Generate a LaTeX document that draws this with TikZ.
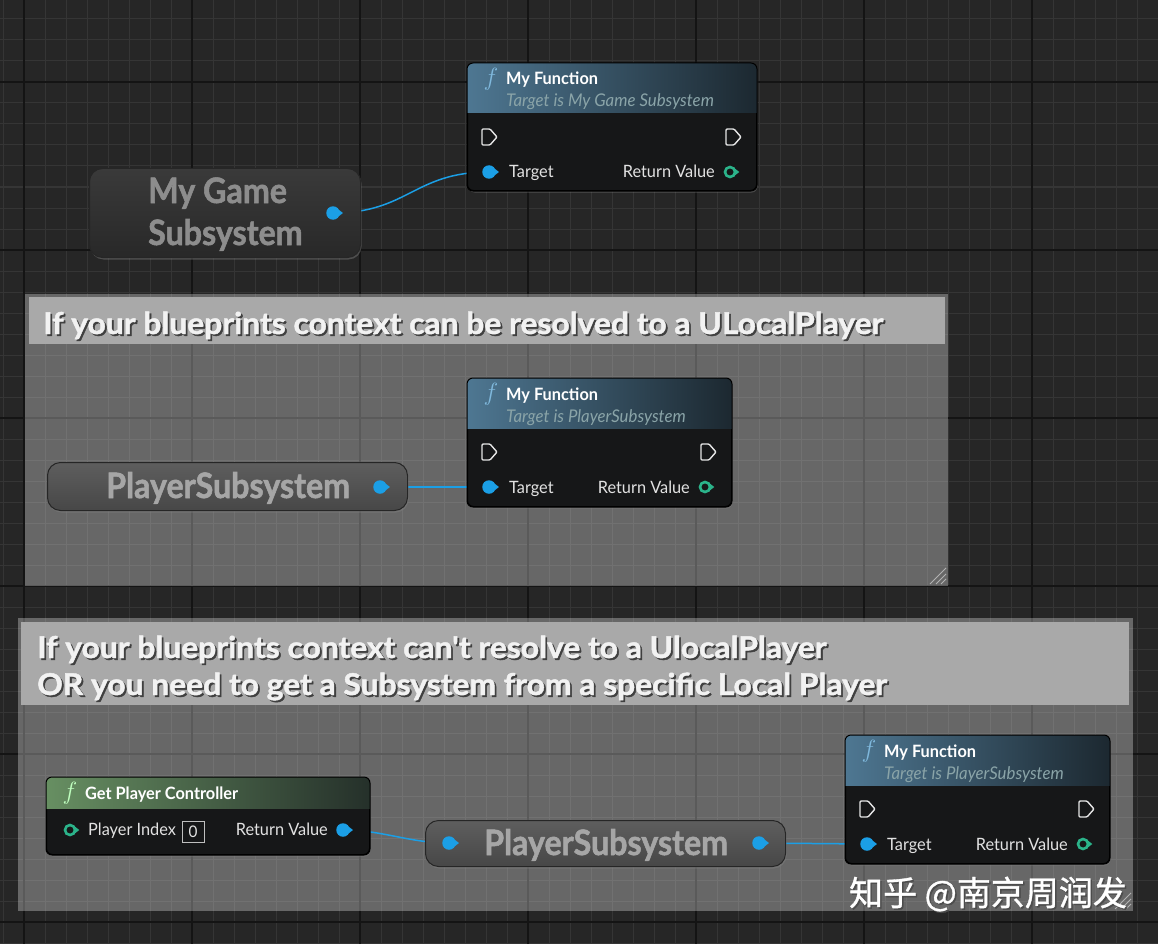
\documentclass[tikz,border=0pt]{standalone}
\usepackage{fontspec}
\setmainfont{Lato}
\newfontfamily\uefont[FakeStretch=0.96]{Lato}
\newfontfamily\uehead[FakeStretch=1.06, BoldFeatures={FakeBold=1.5}]{Lato}
\newfontfamily\uecond[FakeStretch=0.92, BoldFeatures={FakeBold=1.5}]{Lato}
\newfontfamily\cjkfont[FakeBold=1]{Noto Sans CJK SC}
\usetikzlibrary{positioning,shadows}

\definecolor{graphbg}{HTML}{262626}
\definecolor{gridminor}{HTML}{353535}
\definecolor{gridmajor}{HTML}{141414}
\definecolor{wireblue}{HTML}{1B9FE6}
\definecolor{pingreen}{HTML}{2BB38A}
\definecolor{nodebody}{HTML}{161718}
\definecolor{fnhead}{HTML}{4E7792}
\definecolor{fnheaddark}{HTML}{1C2830}
\definecolor{fnicon}{HTML}{7FB8DC}
\definecolor{pchead}{HTML}{678F62}
\definecolor{pcheaddark}{HTML}{25302A}
\definecolor{subtitle}{HTML}{8AA4A8}
\definecolor{pintext}{HTML}{E2E2E2}
\definecolor{commenthead}{HTML}{A9A9A9}
\definecolor{compacttext}{HTML}{8D8D8D}
\definecolor{compacttextlight}{HTML}{A6A6A6}
\definecolor{darktop}{HTML}{3A3A3A}
\definecolor{darkbot}{HTML}{282828}
\definecolor{lighttop}{HTML}{5E5E5E}
\definecolor{lightbot}{HTML}{474747}

\pgfdeclarelayer{canvas}
\pgfdeclarelayer{wirelayer}
\pgfsetlayers{canvas,wirelayer,main}

\tikzset{
  fnbox/.style={draw=black, line width=1pt, fill=nodebody, rounded corners=6pt,
    anchor=north west, inner sep=0pt,
    drop shadow={opacity=0.45, shadow xshift=1pt, shadow yshift=-2pt}},
  compact/.style 2 args={draw=black!85, line width=1pt, rounded corners=13pt,
    anchor=north west, inner sep=0pt, top color=#1, bottom color=#2,
    drop shadow={opacity=0.45, shadow xshift=1pt, shadow yshift=-2pt}},
  compacttext/.style={font=\uecond\bfseries\fontsize{35}{41}\selectfont,
    inner sep=0pt, anchor=base west},
  datapin/.style={circle, fill=wireblue, minimum size=13.5pt, inner sep=0pt},
  retpin/.style={circle, draw=pingreen, line width=2.6pt, fill=nodebody,
    minimum size=10pt, inner sep=0pt},
  pinlabel/.style={font=\uefont\fontsize{17}{20}\selectfont, text=pintext, inner sep=0pt},
  fntitle/.style={font=\uefont\bfseries\fontsize{17}{20}\selectfont, text=white,
    inner sep=0pt, anchor=base west},
  fnsub/.style={font=\uefont\itshape\fontsize{17.5}{20}\selectfont, text=subtitle,
    inner sep=0pt, anchor=base west},
  fniconstyle/.style={font=\fontsize{24}{24}\selectfont, inner sep=0pt},
  execpin/.style={draw=white!90!black, line width=1.4pt, line join=round, rounded corners=1pt},
  wire/.style={wireblue, line width=1.5pt},
  commenttext/.style={font=\uehead\bfseries\fontsize{30}{36}\selectfont, text=white!95!black,
    inner sep=0pt, anchor=base west},
  commentshadow/.style={commenttext, text=black!75},
  grip/.style={draw=white!70!black, line width=1pt},
  watermark/.style={font=\cjkfont\fontsize{34}{36}\selectfont, text=white, inner sep=0pt}
}

% header band of a function node, clipped to its rounded box
\newcommand{\fnheader}[4]{%
  \begin{scope}
    \clip[rounded corners=6pt] (#1.north west) rectangle (#1.south east);
    \shade[left color=#2, right color=#3] (#1.north west) rectangle ([yshift=-#4pt]#1.north east);
  \end{scope}
  \draw[line width=1pt, rounded corners=6pt] (#1.north west) rectangle (#1.south east);}

% small arrow tip on the right of a pin
\newcommand{\pintip}[2]{%
  \fill[#2] ([xshift=-1.5pt,yshift=3.5pt]#1.east) -- ([xshift=3pt]#1.east)
    -- ([xshift=-1.5pt,yshift=-3.5pt]#1.east) -- cycle;}

\newcommand{\shadowtext}[2]{%
  \node[commentshadow] at ([xshift=1.8pt,yshift=-1.8pt]#1) {#2};
  \node[commenttext] at (#1) {#2};}

\begin{document}
\begin{tikzpicture}[x=1pt, y=-1pt]
\useasboundingbox (0,0) rectangle (1158,944);

\begin{pgfonlayer}{canvas}
  \fill[graphbg] (0,0) rectangle (1158,944);
  \foreach \gx in {3,24,...,1158} \draw[gridminor, line width=1pt] (\gx,0) -- (\gx,944);
  \foreach \gy in {-2,19,...,944} \draw[gridminor, line width=1pt] (0,\gy) -- (1158,\gy);
  \foreach \gx in {24,192,...,1158} \draw[gridmajor, line width=1.3pt] (\gx,0) -- (\gx,944);
  \foreach \gy in {82,250,...,944} \draw[gridmajor, line width=1.3pt] (0,\gy) -- (1158,\gy);
  %
  % comment boxes
  \fill[white, fill opacity=0.3] (25,294) rectangle (948,586);
  \fill[commenthead] (29,297) rectangle (945,344);
  \fill[white, fill opacity=0.3] (18,618) rectangle (1133,911);
  \fill[commenthead] (21,622) rectangle (1129,705);
\end{pgfonlayer}

% comment titles
\shadowtext{43,334}{If your blueprints context can be resolved to a ULocalPlayer}
\shadowtext{37,658}{If your blueprints context can't resolve to a UlocalPlayer}
\shadowtext{37,695}{OR you need to get a Subsystem from a specific Local Player}
%
\draw[grip] (930,584) -- (946,568);
\draw[grip] (936,584) -- (946,574);
\draw[grip] (941,584) -- (946,579);
\draw[grip] (1115,909) -- (1131,893);
\draw[grip] (1121,909) -- (1131,899);
\draw[grip] (1126,909) -- (1131,904);

% My Game Subsystem
\node[compact={darktop}{darkbot}, minimum width=271pt, minimum height=89pt] (gamesub) at (89,168) {};
\node[compacttext, text=compacttext] (gamesub-l1) at (148,203) {My Game};
\node[compacttext, text=compacttext] (gamesub-l2) at (148,245) {Subsystem};
\node[datapin] (gamesub-out) at (333,213) {};
\pintip{gamesub-out}{wireblue}

% My Function (top)
\node[fnbox, minimum width=289pt, minimum height=127pt] (fn1) at (467,63) {};
\fnheader{fn1}{fnhead}{fnheaddark}{50}
\node[fniconstyle, text=fnicon] (fn1-icon) at (491,79) {$f$};
\node[fntitle] (fn1-title) at (506,85) {My Function};
\node[fnsub] (fn1-sub) at (506,107) {Target is My Game Subsystem};
\draw[execpin] (482,129) -- ++(8,0) -- ++(7,8) -- ++(-7,8) -- ++(-8,0) -- cycle;
\draw[execpin] (726,129) -- ++(8,0) -- ++(7,8) -- ++(-7,8) -- ++(-8,0) -- cycle;
\node[datapin] (fn1-target) at (489,172) {};
\pintip{fn1-target}{wireblue}
\node[pinlabel, anchor=base west] (fn1-target-label) at (509,178) {Target};
\node[retpin] (fn1-ret) at (730,172) {};
\pintip{fn1-ret}{pingreen}
\node[pinlabel, anchor=base east] (fn1-ret-label) at (715,178) {Return Value};

% PlayerSubsystem (comment 1)
\node[compact={lighttop}{lightbot}, minimum width=360pt, minimum height=48pt] (ps1) at (47,462) {};
\node[compacttext, text=compacttextlight] (ps1-text) at (106,498) {PlayerSubsystem};
\node[datapin] (ps1-out) at (380,487) {};
\pintip{ps1-out}{wireblue}

% My Function (comment 1)
\node[fnbox, minimum width=264pt, minimum height=128pt] (fn2) at (467,378) {};
\fnheader{fn2}{fnhead}{fnheaddark}{50}
\node[fniconstyle, text=fnicon] (fn2-icon) at (491,394) {$f$};
\node[fntitle] (fn2-title) at (506,400) {My Function};
\node[fnsub] (fn2-sub) at (506,422) {Target is PlayerSubsystem};
\draw[execpin] (482,444) -- ++(8,0) -- ++(7,8) -- ++(-7,8) -- ++(-8,0) -- cycle;
\draw[execpin] (701,444) -- ++(8,0) -- ++(7,8) -- ++(-7,8) -- ++(-8,0) -- cycle;
\node[datapin] (fn2-target) at (489,487) {};
\pintip{fn2-target}{wireblue}
\node[pinlabel, anchor=base west] (fn2-target-label) at (509,493) {Target};
\node[retpin] (fn2-ret) at (705,487) {};
\pintip{fn2-ret}{pingreen}
\node[pinlabel, anchor=base east] (fn2-ret-label) at (690,493) {Return Value};

% Get Player Controller
\node[fnbox, minimum width=323pt, minimum height=77pt] (pc) at (46,777) {};
\fnheader{pc}{pchead}{pcheaddark}{31}
\node[fniconstyle, text=green!25!white] (pc-icon) at (70,793) {$f$};
\node[fntitle] (pc-title) at (85,799) {Get Player Controller};
\node[retpin] (pc-index) at (70,830) {};
\pintip{pc-index}{pingreen}
\node[pinlabel, anchor=base west] (pc-index-label) at (88,835) {Player Index};
\node[draw=white!75!black, line width=1pt, minimum width=22pt, minimum height=21pt,
  inner sep=0pt, font=\uefont\fontsize{16}{18}\selectfont, text=pintext] (pc-index-box) at (193,832) {0};
\node[pinlabel, anchor=base east] (pc-ret-label) at (328,835) {Return Value};
\node[datapin] (pc-ret) at (343,830) {};
\pintip{pc-ret}{wireblue}

% PlayerSubsystem (comment 2)
\node[compact={lighttop}{lightbot}, minimum width=360pt, minimum height=46pt] (ps2) at (425,820) {};
\node[compacttext, text=compacttextlight] (ps2-text) at (484,855) {PlayerSubsystem};
\node[datapin] (ps2-in) at (449,843) {};
\pintip{ps2-in}{wireblue}
\node[datapin] (ps2-out) at (759,843) {};
\pintip{ps2-out}{wireblue}

% My Function (comment 2)
\node[fnbox, minimum width=264pt, minimum height=128pt] (fn3) at (845,735) {};
\fnheader{fn3}{fnhead}{fnheaddark}{50}
\node[fniconstyle, text=fnicon] (fn3-icon) at (869,751) {$f$};
\node[fntitle] (fn3-title) at (884,757) {My Function};
\node[fnsub] (fn3-sub) at (884,779) {Target is PlayerSubsystem};
\draw[execpin] (860,801) -- ++(8,0) -- ++(7,8) -- ++(-7,8) -- ++(-8,0) -- cycle;
\draw[execpin] (1079,801) -- ++(8,0) -- ++(7,8) -- ++(-7,8) -- ++(-8,0) -- cycle;
\node[datapin] (fn3-target) at (867,844) {};
\pintip{fn3-target}{wireblue}
\node[pinlabel, anchor=base west] (fn3-target-label) at (887,850) {Target};
\node[retpin] (fn3-ret) at (1083,844) {};
\pintip{fn3-ret}{pingreen}
\node[pinlabel, anchor=base east] (fn3-ret-label) at (1068,850) {Return Value};

% watermark
\node[watermark, text=black!70] at (989.5,895.5) {知乎 @南京周润发};
\node[watermark] (zhihu) at (988,894) {知乎 @南京周润发};

% wires
\begin{pgfonlayer}{wirelayer}
  \draw[wire] (gamesub-out.center) .. controls +(75,0) and +(-75,0) .. (fn1-target.center);
  \draw[wire] (ps1-out.center) -- (fn2-target.center);
  \draw[wire] (pc-ret.center) .. controls +(40,0) and +(-40,0) .. (ps2-in.center);
  \draw[wire] (ps2-out.center) -- (fn3-target.center);
\end{pgfonlayer}
\end{tikzpicture}
\end{document}
